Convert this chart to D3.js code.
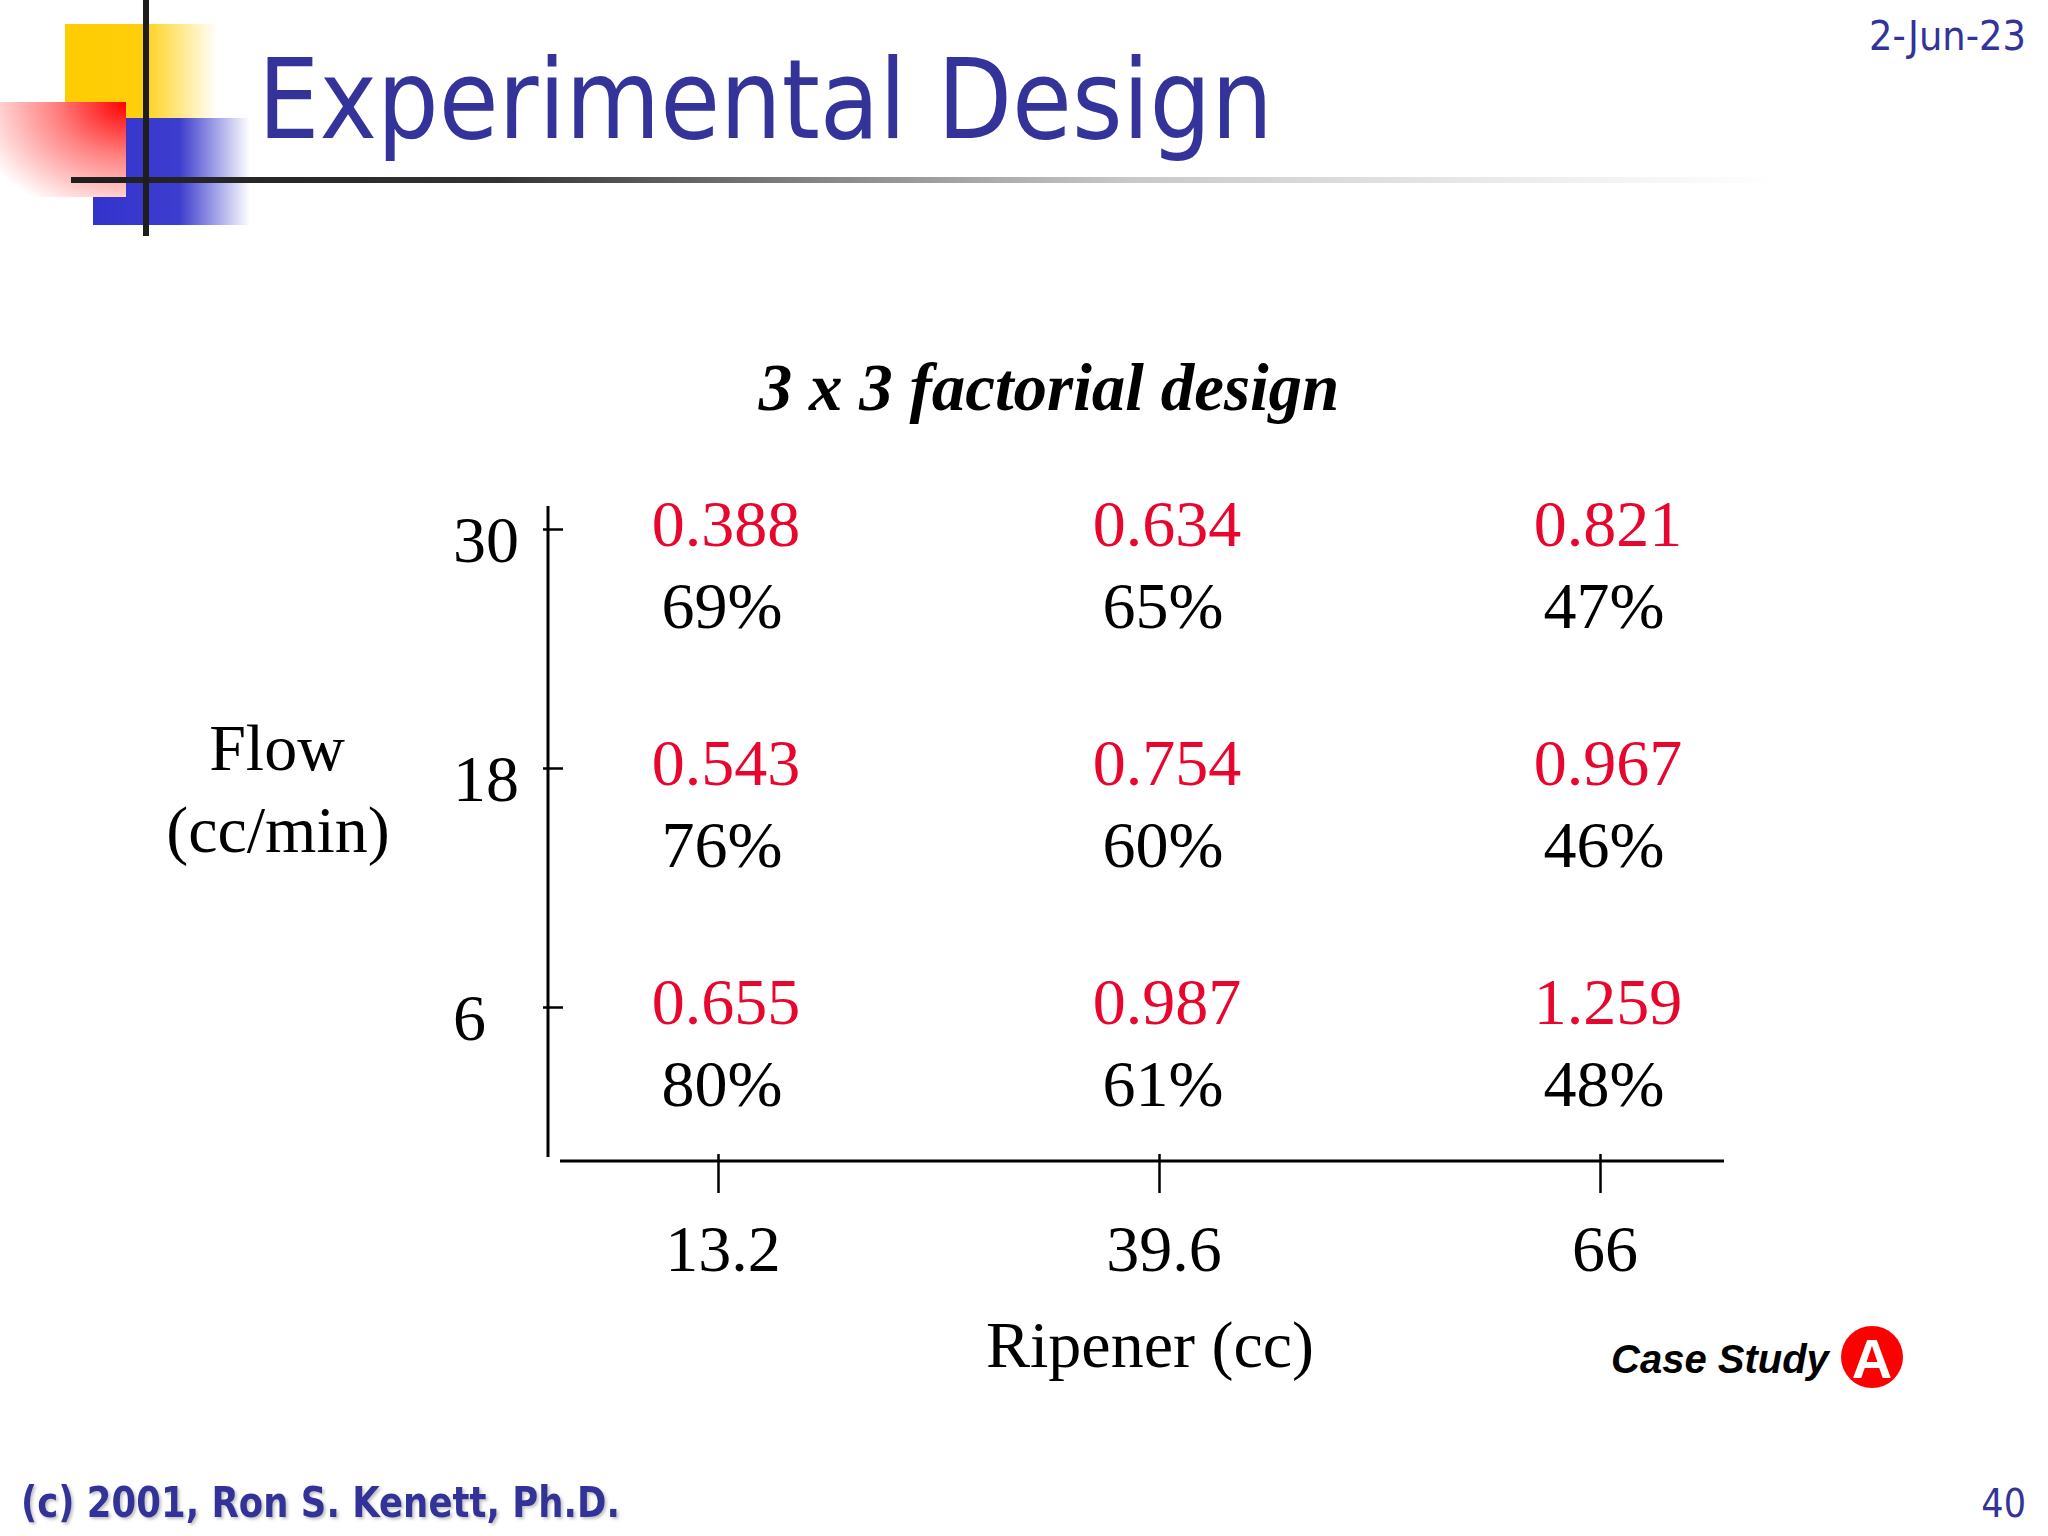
<!DOCTYPE html>
<html>
<head>
<meta charset="utf-8">
<title>Experimental Design</title>
<script src="https://cdn.jsdelivr.net/npm/d3@7"></script>
<style>
    html, body { margin: 0; padding: 0; background: #fff; }
    svg { display: block; }
</style>
</head>
<body>
<svg id="slide"></svg>
<script>
// Factor levels
const ripener = [13.2, 39.6, 66];
const flow = [30, 18, 6];

// Tick labels
const ripenerLabels = ["13.2", "39.6", "66"];
const flowLabels = ["30", "18", "6"];

// Cell values, one row per flow level (30, 18, 6)
const meanValues = [
    [0.388, 0.634, 0.821],
    [0.543, 0.754, 0.967],
    [0.655, 0.987, 1.259]
];
const percentValues = [
    [69, 65, 47],
    [76, 60, 46],
    [80, 61, 48]
];

const width = 2048;
const height = 1536;
const navy = "#333399";
const red = "#e8062e";
const serif = "'Liberation Serif', 'Times New Roman', serif";
const sans = "'DejaVu Sans Condensed', 'DejaVu Sans', sans-serif";

const svg = d3.select("#slide")
    .attr("width", width)
    .attr("height", height)
    .attr("viewBox", [0, 0, width, height]);

const defs = svg.append("defs");

// Gradients for the logo and the title rule
function fadeGradient(id, color, solidUntil) {
    const g = defs.append("linearGradient").attr("id", id)
        .attr("x1", 0).attr("x2", 1).attr("y1", 0).attr("y2", 0);
    g.append("stop").attr("offset", 0).attr("stop-color", color).attr("stop-opacity", 1);
    g.append("stop").attr("offset", solidUntil).attr("stop-color", color).attr("stop-opacity", 0.95);
    g.append("stop").attr("offset", 1).attr("stop-color", color).attr("stop-opacity", 0);
}
fadeGradient("yellowFade", "#ffcc00", 0.5);
fadeGradient("blueFade", "#3333cc", 0.55);

const redGrad = defs.append("radialGradient").attr("id", "redFade")
    .attr("cx", 1).attr("cy", 0).attr("r", 1.25).attr("fx", 1).attr("fy", 0);
redGrad.append("stop").attr("offset", 0).attr("stop-color", "#ff0000");
redGrad.append("stop").attr("offset", 0.45).attr("stop-color", "#ff8080");
redGrad.append("stop").attr("offset", 1).attr("stop-color", "#ffffff");

const ruleGrad = defs.append("linearGradient").attr("id", "ruleFade")
    .attr("x1", 0).attr("x2", 1).attr("y1", 0).attr("y2", 0);
[[0, "#1e1e1e"], [0.25, "#333333"], [0.45, "#8a8a8a"], [0.62, "#c8c8c8"], [0.85, "#ececec"], [1, "#ffffff"]]
    .forEach(([o, c]) => ruleGrad.append("stop").attr("offset", o).attr("stop-color", c));

const shadow = defs.append("filter").attr("id", "softShadow")
    .attr("x", "-5%").attr("y", "-20%").attr("width", "110%").attr("height", "150%");
shadow.append("feDropShadow").attr("dx", 2).attr("dy", 2).attr("stdDeviation", 1.5)
    .attr("flood-color", "#999").attr("flood-opacity", 0.6);

// Logo block
const logo = svg.append("g");
logo.append("rect").attr("x", 65).attr("y", 24).attr("width", 152).attr("height", 94)
    .attr("fill", "url(#yellowFade)");
logo.append("rect").attr("x", 93).attr("y", 118).attr("width", 157).attr("height", 107)
    .attr("fill", "url(#blueFade)");
logo.append("rect").attr("x", 0).attr("y", 102).attr("width", 126).attr("height", 95)
    .attr("fill", "url(#redFade)");
logo.append("rect").attr("x", 71).attr("y", 177).attr("width", 1705).attr("height", 6)
    .attr("fill", "url(#ruleFade)");
logo.append("rect").attr("x", 143).attr("y", 0).attr("width", 6).attr("height", 236)
    .attr("fill", "#1e1e1e");

// Title and header
svg.append("text")
    .attr("x", 258).attr("y", 138)
    .attr("font-family", sans).attr("font-size", 111)
    .attr("textLength", 1015).attr("lengthAdjust", "spacingAndGlyphs")
    .attr("fill", navy)
    .text("Experimental Design");

svg.append("text")
    .attr("x", 2026).attr("y", 50)
    .attr("text-anchor", "end")
    .attr("font-family", sans).attr("font-size", 41)
    .attr("fill", navy)
    .text("2-Jun-23");

svg.append("text")
    .attr("x", 1049).attr("y", 410)
    .attr("text-anchor", "middle")
    .attr("font-family", serif).attr("font-size", 67)
    .attr("font-weight", "bold").attr("font-style", "italic")
    .attr("fill", "#000")
    .text("3 x 3 factorial design");

// Scales
const x = d3.scaleLinear().domain([13.2, 66]).range([718, 1600]);
const y = d3.scaleLinear().domain([30, 6]).range([529, 1007]);

const chart = svg.append("g").attr("font-family", serif).attr("font-size", 66);

// Axis lines
chart.append("line")
    .attr("x1", 548).attr("x2", 548).attr("y1", 506).attr("y2", 1157)
    .attr("stroke", "#000").attr("stroke-width", 3);
chart.append("line")
    .attr("x1", 560).attr("x2", 1724).attr("y1", 1161).attr("y2", 1161)
    .attr("stroke", "#000").attr("stroke-width", 3);

// Y ticks cross the axis line
const yAxis = chart.append("g")
    .attr("transform", "translate(548,0)")
    .call(d3.axisRight(y).tickValues(flow).tickSize(15).tickFormat(""));
yAxis.select(".domain").remove();
yAxis.selectAll(".tick line").attr("x1", -5).attr("stroke", "#000").attr("stroke-width", 2.5);

const xAxis = chart.append("g")
    .attr("transform", "translate(0,1161)")
    .call(d3.axisBottom(x).tickValues(ripener).tickSize(32).tickFormat(""));
xAxis.select(".domain").remove();
xAxis.selectAll(".tick line").attr("y1", -7).attr("stroke", "#000").attr("stroke-width", 2.5);

// Tick labels
chart.append("g").selectAll("text")
    .data(flow)
    .join("text")
    .attr("x", 453)
    .attr("y", d => y(d) + 33)
    .attr("fill", "#000")
    .text((d, i) => flowLabels[i]);

chart.append("g").selectAll("text")
    .data(ripener)
    .join("text")
    .attr("x", d => x(d) + 5)
    .attr("y", 1271)
    .attr("text-anchor", "middle")
    .attr("fill", "#000")
    .text((d, i) => ripenerLabels[i]);

// Axis titles
chart.append("text")
    .attr("x", 277).attr("y", 770)
    .attr("text-anchor", "middle")
    .text("Flow");
chart.append("text")
    .attr("x", 278).attr("y", 852)
    .attr("text-anchor", "middle")
    .text("(cc/min)");
chart.append("text")
    .attr("x", 1150).attr("y", 1367)
    .attr("text-anchor", "middle")
    .text("Ripener (cc)");

// Cells
const cells = [];
flow.forEach((f, i) => {
    ripener.forEach((r, j) => {
        cells.push({ flow: f, ripener: r, mean: meanValues[i][j], pct: percentValues[i][j] });
    });
});

chart.append("g").selectAll("text")
    .data(cells)
    .join("text")
    .attr("x", d => x(d.ripener) + 8)
    .attr("y", d => y(d.flow) + 17)
    .attr("text-anchor", "middle")
    .attr("fill", red)
    .text(d => d3.format(".3f")(d.mean));

chart.append("g").selectAll("text")
    .data(cells)
    .join("text")
    .attr("x", d => x(d.ripener) + 4)
    .attr("y", d => y(d.flow) + 99)
    .attr("text-anchor", "middle")
    .attr("fill", "#000")
    .text(d => d.pct + "%");

// Case Study badge
svg.append("text")
    .attr("x", 1611).attr("y", 1373)
    .attr("font-family", "'Liberation Sans', Arial, sans-serif")
    .attr("font-size", 40).attr("font-weight", "bold").attr("font-style", "italic")
    .attr("fill", "#000")
    .text("Case Study");
svg.append("ellipse")
    .attr("cx", 1872).attr("cy", 1357).attr("rx", 31).attr("ry", 31)
    .attr("fill", "#ff0000");
svg.append("text")
    .attr("x", 1872).attr("y", 1378)
    .attr("text-anchor", "middle")
    .attr("font-family", "'Liberation Sans', Arial, sans-serif")
    .attr("font-size", 56).attr("font-weight", "bold")
    .attr("fill", "#fff")
    .text("A");

// Footer
svg.append("text")
    .attr("x", 21).attr("y", 1517)
    .attr("font-family", sans).attr("font-size", 42).attr("font-weight", "bold")
    .attr("textLength", 599).attr("lengthAdjust", "spacingAndGlyphs")
    .attr("fill", navy)
    .attr("filter", "url(#softShadow)")
    .text("(c) 2001, Ron S. Kenett, Ph.D.");

svg.append("text")
    .attr("x", 2026).attr("y", 1517)
    .attr("text-anchor", "end")
    .attr("font-family", sans).attr("font-size", 39)
    .attr("fill", navy)
    .text("40");
</script>
</body>
</html>
